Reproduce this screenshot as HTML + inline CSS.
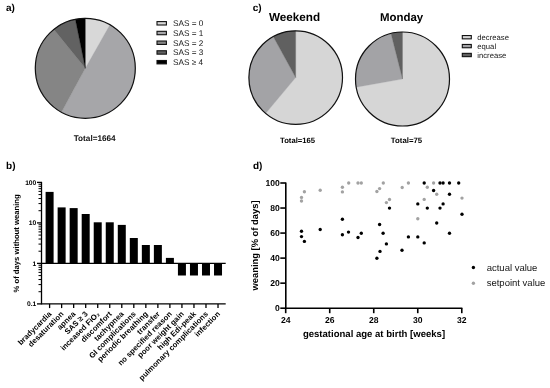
<!DOCTYPE html>
<html><head><meta charset="utf-8"><title>Figure</title>
<style>
html,body{margin:0;padding:0;background:#fff;}
body{width:550px;height:388px;overflow:hidden;font-family:"Liberation Sans",Arial,sans-serif;}
svg{display:block;text-rendering:geometricPrecision}
</style></head><body>
<svg width="550" height="388" viewBox="0 0 550 388">
<rect width="550" height="388" fill="#fff"/>
<g font-family="Liberation Sans, Arial, sans-serif" font-weight="bold" fill="#000">
<text x="6" y="10.8" font-size="10">a)</text>
<text x="6.1" y="168.8" font-size="10">b)</text>
<text x="252.8" y="10.8" font-size="10">c)</text>
<text x="253" y="168.6" font-size="10">d)</text>
</g>
<path d="M85.3,68.3 L85.30,18.30 A50,50 0 0 1 109.92,24.78 Z" fill="#d8d8d8" stroke="#d8d8d8" stroke-width="0.3"/>
<path d="M85.3,68.3 L109.92,24.78 A50,50 0 0 1 61.44,112.24 Z" fill="#a6a6a9" stroke="#a6a6a9" stroke-width="0.3"/>
<path d="M85.3,68.3 L61.44,112.24 A50,50 0 0 1 53.83,29.44 Z" fill="#858585" stroke="#858585" stroke-width="0.3"/>
<path d="M85.3,68.3 L53.83,29.44 A50,50 0 0 1 75.33,19.30 Z" fill="#626262" stroke="#626262" stroke-width="0.3"/>
<path d="M85.3,68.3 L75.33,19.30 A50,50 0 0 1 85.30,18.30 Z" fill="#000" stroke="#000" stroke-width="0.3"/>
<circle cx="85.3" cy="68.3" r="50" fill="none" stroke="#111" stroke-width="1.2"/>
<text x="94.7" y="141.2" font-size="8.2" font-weight="bold" text-anchor="middle" font-family="Liberation Sans, Arial, sans-serif" fill="#111">Total=1664</text>
<rect x="157" y="21.60" width="9.4" height="3.4" fill="#d8d8d8" stroke="#111" stroke-width="1.1"/>
<text x="173" y="26.20" font-size="8.2" font-family="Liberation Sans, Arial, sans-serif" fill="#151515">SAS = 0</text>
<rect x="157" y="31.32" width="9.4" height="3.4" fill="#a6a6a9" stroke="#111" stroke-width="1.1"/>
<text x="173" y="35.92" font-size="8.2" font-family="Liberation Sans, Arial, sans-serif" fill="#151515">SAS = 1</text>
<rect x="157" y="41.04" width="9.4" height="3.4" fill="#858585" stroke="#111" stroke-width="1.1"/>
<text x="173" y="45.64" font-size="8.2" font-family="Liberation Sans, Arial, sans-serif" fill="#151515">SAS = 2</text>
<rect x="157" y="50.76" width="9.4" height="3.4" fill="#626262" stroke="#111" stroke-width="1.1"/>
<text x="173" y="55.36" font-size="8.2" font-family="Liberation Sans, Arial, sans-serif" fill="#151515">SAS = 3</text>
<rect x="157" y="60.48" width="9.4" height="3.4" fill="#000" stroke="#111" stroke-width="1.1"/>
<text x="173" y="65.08" font-size="8.2" font-family="Liberation Sans, Arial, sans-serif" fill="#151515">SAS ≥ 4</text>
<path d="M295.7,77.6 L295.70,30.80 A46.8,46.8 0 1 1 265.62,113.45 Z" fill="#d6d6d6" stroke="#d6d6d6" stroke-width="0.3"/>
<path d="M295.7,77.6 L265.62,113.45 A46.8,46.8 0 0 1 273.23,36.55 Z" fill="#a3a3a6" stroke="#a3a3a6" stroke-width="0.3"/>
<path d="M295.7,77.6 L273.23,36.55 A46.8,46.8 0 0 1 295.70,30.80 Z" fill="#606060" stroke="#606060" stroke-width="0.3"/>
<circle cx="295.7" cy="77.6" r="46.8" fill="none" stroke="#111" stroke-width="1.2"/>
<path d="M402.5,79 L402.50,32.00 A47,47 0 1 1 356.21,87.16 Z" fill="#d6d6d6" stroke="#d6d6d6" stroke-width="0.3"/>
<path d="M402.5,79 L356.21,87.16 A47,47 0 0 1 390.97,33.44 Z" fill="#a3a3a6" stroke="#a3a3a6" stroke-width="0.3"/>
<path d="M402.5,79 L390.97,33.44 A47,47 0 0 1 402.50,32.00 Z" fill="#606060" stroke="#606060" stroke-width="0.3"/>
<circle cx="402.5" cy="79" r="47" fill="none" stroke="#111" stroke-width="1.2"/>
<g font-family="Liberation Sans, Arial, sans-serif" font-weight="bold" fill="#000">
<text x="294.5" y="21.2" font-size="11.7" text-anchor="middle">Weekend</text>
<text x="401.5" y="21.2" font-size="11.45" text-anchor="middle">Monday</text>
<text x="297.6" y="143" font-size="7.7" text-anchor="middle">Total=165</text>
<text x="406.5" y="143.4" font-size="7.8" text-anchor="middle">Total=75</text>
</g>
<rect x="462.3" y="35.55" width="9" height="3.3" fill="#d6d6d6" stroke="#111" stroke-width="1.1"/>
<text x="477.3" y="39.80" font-size="7.7" font-family="Liberation Sans, Arial, sans-serif" fill="#151515">decrease</text>
<rect x="462.3" y="44.45" width="9" height="3.3" fill="#a3a3a6" stroke="#111" stroke-width="1.1"/>
<text x="477.3" y="48.70" font-size="7.7" font-family="Liberation Sans, Arial, sans-serif" fill="#151515">equal</text>
<rect x="462.3" y="53.35" width="9" height="3.3" fill="#606060" stroke="#111" stroke-width="1.1"/>
<text x="477.3" y="57.60" font-size="7.7" font-family="Liberation Sans, Arial, sans-serif" fill="#151515">increase</text>
<g fill="#000" stroke="none">
<rect x="45.60" y="191.90" width="8" height="71.50"/>
<rect x="57.63" y="207.40" width="8" height="56.00"/>
<rect x="69.66" y="208.10" width="8" height="55.30"/>
<rect x="81.69" y="214.00" width="8" height="49.40"/>
<rect x="93.72" y="222.30" width="8" height="41.10"/>
<rect x="105.75" y="222.30" width="8" height="41.10"/>
<rect x="117.78" y="224.90" width="8" height="38.50"/>
<rect x="129.81" y="238.00" width="8" height="25.40"/>
<rect x="141.84" y="245.00" width="8" height="18.40"/>
<rect x="153.87" y="245.00" width="8" height="18.40"/>
<rect x="165.90" y="257.90" width="8" height="5.50"/>
<rect x="177.93" y="263.40" width="8" height="12.10"/>
<rect x="189.96" y="263.40" width="8" height="12.10"/>
<rect x="201.99" y="263.40" width="8" height="12.10"/>
<rect x="214.02" y="263.40" width="8" height="12.10"/>
</g>
<g stroke="#000" stroke-width="1.3" fill="none">
<line x1="41.5" y1="181.84999999999997" x2="41.5" y2="304.45"/>
<line x1="41.5" y1="263.4" x2="225.7" y2="263.4"/>
<line x1="41.5" y1="303.9" x2="225.7" y2="303.9"/>
<line x1="37.0" y1="182.39999999999998" x2="41.5" y2="182.39999999999998"/>
<line x1="37.0" y1="222.89999999999998" x2="41.5" y2="222.89999999999998"/>
<line x1="37.0" y1="263.4" x2="41.5" y2="263.4"/>
<line x1="37.0" y1="303.9" x2="41.5" y2="303.9"/>
<line x1="38.5" y1="210.71" x2="41.5" y2="210.71" stroke-width="1.0"/>
<line x1="38.5" y1="203.58" x2="41.5" y2="203.58" stroke-width="1.0"/>
<line x1="38.5" y1="198.52" x2="41.5" y2="198.52" stroke-width="1.0"/>
<line x1="38.5" y1="194.59" x2="41.5" y2="194.59" stroke-width="1.0"/>
<line x1="38.5" y1="191.38" x2="41.5" y2="191.38" stroke-width="1.0"/>
<line x1="38.5" y1="188.67" x2="41.5" y2="188.67" stroke-width="1.0"/>
<line x1="38.5" y1="186.32" x2="41.5" y2="186.32" stroke-width="1.0"/>
<line x1="38.5" y1="184.25" x2="41.5" y2="184.25" stroke-width="1.0"/>
<line x1="38.5" y1="251.21" x2="41.5" y2="251.21" stroke-width="1.0"/>
<line x1="38.5" y1="244.08" x2="41.5" y2="244.08" stroke-width="1.0"/>
<line x1="38.5" y1="239.02" x2="41.5" y2="239.02" stroke-width="1.0"/>
<line x1="38.5" y1="235.09" x2="41.5" y2="235.09" stroke-width="1.0"/>
<line x1="38.5" y1="231.88" x2="41.5" y2="231.88" stroke-width="1.0"/>
<line x1="38.5" y1="229.17" x2="41.5" y2="229.17" stroke-width="1.0"/>
<line x1="38.5" y1="226.82" x2="41.5" y2="226.82" stroke-width="1.0"/>
<line x1="38.5" y1="224.75" x2="41.5" y2="224.75" stroke-width="1.0"/>
<line x1="38.5" y1="291.71" x2="41.5" y2="291.71" stroke-width="1.0"/>
<line x1="38.5" y1="284.58" x2="41.5" y2="284.58" stroke-width="1.0"/>
<line x1="38.5" y1="279.52" x2="41.5" y2="279.52" stroke-width="1.0"/>
<line x1="38.5" y1="275.59" x2="41.5" y2="275.59" stroke-width="1.0"/>
<line x1="38.5" y1="272.38" x2="41.5" y2="272.38" stroke-width="1.0"/>
<line x1="38.5" y1="269.67" x2="41.5" y2="269.67" stroke-width="1.0"/>
<line x1="38.5" y1="267.32" x2="41.5" y2="267.32" stroke-width="1.0"/>
<line x1="38.5" y1="265.25" x2="41.5" y2="265.25" stroke-width="1.0"/>
<line x1="49.60" y1="303.9" x2="49.60" y2="308.09999999999997"/>
<line x1="61.63" y1="303.9" x2="61.63" y2="308.09999999999997"/>
<line x1="73.66" y1="303.9" x2="73.66" y2="308.09999999999997"/>
<line x1="85.69" y1="303.9" x2="85.69" y2="308.09999999999997"/>
<line x1="97.72" y1="303.9" x2="97.72" y2="308.09999999999997"/>
<line x1="109.75" y1="303.9" x2="109.75" y2="308.09999999999997"/>
<line x1="121.78" y1="303.9" x2="121.78" y2="308.09999999999997"/>
<line x1="133.81" y1="303.9" x2="133.81" y2="308.09999999999997"/>
<line x1="145.84" y1="303.9" x2="145.84" y2="308.09999999999997"/>
<line x1="157.87" y1="303.9" x2="157.87" y2="308.09999999999997"/>
<line x1="169.90" y1="303.9" x2="169.90" y2="308.09999999999997"/>
<line x1="181.93" y1="303.9" x2="181.93" y2="308.09999999999997"/>
<line x1="193.96" y1="303.9" x2="193.96" y2="308.09999999999997"/>
<line x1="205.99" y1="303.9" x2="205.99" y2="308.09999999999997"/>
<line x1="218.02" y1="303.9" x2="218.02" y2="308.09999999999997"/>
</g>
<g font-family="Liberation Sans, Arial, sans-serif" font-weight="bold" fill="#000" font-size="6.7">
<text x="36.3" y="184.90" text-anchor="end">100</text>
<text x="36.3" y="225.40" text-anchor="end">10</text>
<text x="36.3" y="265.90" text-anchor="end">1</text>
<text x="36.3" y="306.40" text-anchor="end">0.1</text>
<text transform="translate(52.10,314.5) rotate(-45)" text-anchor="end" font-size="7.75">bradycardia</text>
<text transform="translate(64.13,314.5) rotate(-45)" text-anchor="end" font-size="7.75">desaturation</text>
<text transform="translate(76.16,314.5) rotate(-45)" text-anchor="end" font-size="7.75">apnea</text>
<text transform="translate(88.19,314.5) rotate(-45)" text-anchor="end" font-size="7.75">SAS ≥ 3</text>
<text transform="translate(100.22,314.5) rotate(-45)" text-anchor="end" font-size="7.75">inceased FiO₂</text>
<text transform="translate(112.25,314.5) rotate(-45)" text-anchor="end" font-size="7.75">discomfort</text>
<text transform="translate(124.28,314.5) rotate(-45)" text-anchor="end" font-size="7.75">tachypnea</text>
<text transform="translate(136.31,314.5) rotate(-45)" text-anchor="end" font-size="7.75">GI complications</text>
<text transform="translate(148.34,314.5) rotate(-45)" text-anchor="end" font-size="7.75">periodic breathing</text>
<text transform="translate(160.37,314.5) rotate(-45)" text-anchor="end" font-size="7.75">transfer</text>
<text transform="translate(172.40,314.5) rotate(-45)" text-anchor="end" font-size="7.75">no specified reason</text>
<text transform="translate(184.43,314.5) rotate(-45)" text-anchor="end" font-size="7.75">poor weight gain</text>
<text transform="translate(196.46,314.5) rotate(-45)" text-anchor="end" font-size="7.75">high Edi-peak</text>
<text transform="translate(208.49,314.5) rotate(-45)" text-anchor="end" font-size="7.75">pulmonary complications</text>
<text transform="translate(220.52,314.5) rotate(-45)" text-anchor="end" font-size="7.75">infection</text>
<text transform="translate(19.2,243.4) rotate(-90)" text-anchor="middle" font-size="7.7">% of days without weaning</text>
</g>
<g stroke="#000" stroke-width="1.6" fill="none">
<line x1="285.8" y1="182.4" x2="285.8" y2="308.8"/>
<line x1="285.2" y1="308.2" x2="462.38" y2="308.2"/>
<line x1="280.3" y1="308.20" x2="285.8" y2="308.20"/>
<line x1="280.3" y1="283.16" x2="285.8" y2="283.16"/>
<line x1="280.3" y1="258.12" x2="285.8" y2="258.12"/>
<line x1="280.3" y1="233.08" x2="285.8" y2="233.08"/>
<line x1="280.3" y1="208.04" x2="285.8" y2="208.04"/>
<line x1="280.3" y1="183.00" x2="285.8" y2="183.00"/>
<line x1="285.7" y1="308.2" x2="285.7" y2="313.2"/>
<line x1="329.71999999999997" y1="308.2" x2="329.71999999999997" y2="313.2"/>
<line x1="373.74" y1="308.2" x2="373.74" y2="313.2"/>
<line x1="417.76" y1="308.2" x2="417.76" y2="313.2"/>
<line x1="461.78" y1="308.2" x2="461.78" y2="313.2"/>
</g>
<g font-family="Liberation Sans, Arial, sans-serif" font-weight="bold" fill="#000" font-size="8.6">
<text x="279.8" y="311.30" text-anchor="end">0</text>
<text x="279.8" y="286.26" text-anchor="end">20</text>
<text x="279.8" y="261.22" text-anchor="end">40</text>
<text x="279.8" y="236.18" text-anchor="end">60</text>
<text x="279.8" y="211.14" text-anchor="end">80</text>
<text x="279.8" y="186.10" text-anchor="end">100</text>
<text x="285.7" y="322.8" text-anchor="middle">24</text>
<text x="329.71999999999997" y="322.8" text-anchor="middle">26</text>
<text x="373.74" y="322.8" text-anchor="middle">28</text>
<text x="417.76" y="322.8" text-anchor="middle">30</text>
<text x="461.78" y="322.8" text-anchor="middle">32</text>
<text x="374" y="336.9" text-anchor="middle" font-size="9.55">gestational age at birth [weeks]</text>
<text transform="translate(258.3,245.5) rotate(-90)" text-anchor="middle" font-size="9.4">weaning [% of days]</text>
</g>
<g fill="#000">
<circle cx="301.5" cy="231.2" r="1.68"/>
<circle cx="301.5" cy="236.6" r="1.68"/>
<circle cx="304.4" cy="241.4" r="1.68"/>
<circle cx="320.2" cy="229.5" r="1.68"/>
<circle cx="342.4" cy="219.2" r="1.68"/>
<circle cx="342.4" cy="234.8" r="1.68"/>
<circle cx="348.5" cy="232.1" r="1.68"/>
<circle cx="358" cy="237.5" r="1.68"/>
<circle cx="361.3" cy="233.2" r="1.68"/>
<circle cx="379.6" cy="224.5" r="1.68"/>
<circle cx="383.1" cy="233.2" r="1.68"/>
<circle cx="386.4" cy="243.9" r="1.68"/>
<circle cx="389.5" cy="208.1" r="1.68"/>
<circle cx="408.4" cy="236.9" r="1.68"/>
<circle cx="417.8" cy="236.9" r="1.68"/>
<circle cx="417.8" cy="203.9" r="1.68"/>
<circle cx="424.2" cy="183" r="1.68"/>
<circle cx="424.2" cy="242.9" r="1.68"/>
<circle cx="427.3" cy="208.1" r="1.68"/>
<circle cx="433.6" cy="190.5" r="1.68"/>
<circle cx="436.7" cy="223" r="1.68"/>
<circle cx="440" cy="183" r="1.68"/>
<circle cx="440" cy="208.1" r="1.68"/>
<circle cx="443.1" cy="183" r="1.68"/>
<circle cx="443.1" cy="203.9" r="1.68"/>
<circle cx="449.5" cy="183" r="1.68"/>
<circle cx="449.5" cy="194.3" r="1.68"/>
<circle cx="449.5" cy="233.2" r="1.68"/>
<circle cx="458.7" cy="183" r="1.68"/>
<circle cx="462" cy="214.3" r="1.68"/>
<circle cx="376.9" cy="258.3" r="1.68"/>
<circle cx="380" cy="251.4" r="1.68"/>
<circle cx="402" cy="250.3" r="1.68"/>
<circle cx="473.4" cy="267.5" r="1.68"/>
</g><g fill="#a2a2a2">
<circle cx="301.5" cy="197.4" r="1.68"/>
<circle cx="301.5" cy="201" r="1.68"/>
<circle cx="304.4" cy="191.7" r="1.68"/>
<circle cx="320.2" cy="190.3" r="1.68"/>
<circle cx="342.4" cy="187.2" r="1.68"/>
<circle cx="342.4" cy="191.9" r="1.68"/>
<circle cx="348.7" cy="183" r="1.68"/>
<circle cx="358" cy="183" r="1.68"/>
<circle cx="361.3" cy="183" r="1.68"/>
<circle cx="376.9" cy="191.5" r="1.68"/>
<circle cx="379.6" cy="188.6" r="1.68"/>
<circle cx="383.3" cy="183" r="1.68"/>
<circle cx="386.4" cy="202.6" r="1.68"/>
<circle cx="389.5" cy="199.5" r="1.68"/>
<circle cx="402.2" cy="187.5" r="1.68"/>
<circle cx="408.4" cy="183" r="1.68"/>
<circle cx="417.8" cy="218.8" r="1.68"/>
<circle cx="424.2" cy="199.4" r="1.68"/>
<circle cx="427.3" cy="187.2" r="1.68"/>
<circle cx="433.6" cy="183" r="1.68"/>
<circle cx="436.7" cy="194.3" r="1.68"/>
<circle cx="462" cy="198.1" r="1.68"/>
<circle cx="473.4" cy="283.2" r="1.68"/>
</g>
<g font-family="Liberation Sans, Arial, sans-serif" fill="#151515" font-size="9.5">
<text x="486.7" y="270.7">actual value</text>
<text x="486.7" y="286.4">setpoint value</text>
</g>
</svg>
</body></html>
